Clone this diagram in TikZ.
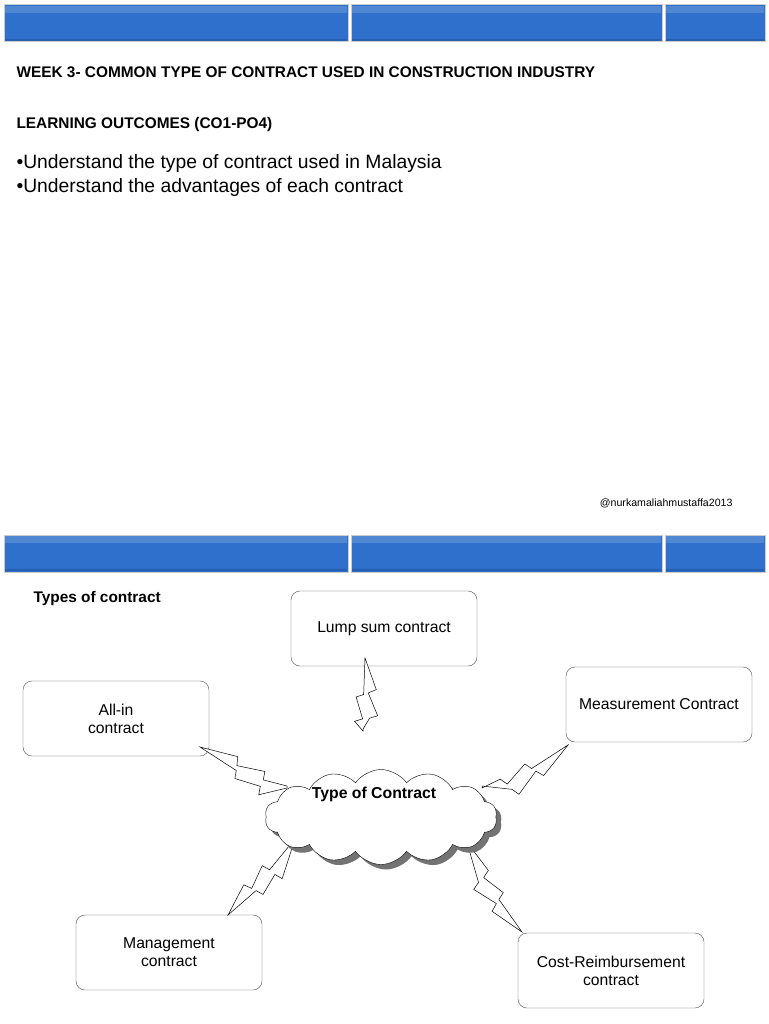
\documentclass[tikz,border=0pt]{standalone}
\usepackage{fontspec}
\setmainfont{Liberation Sans}
\usetikzlibrary{calc,shapes.symbols,shadows}
\definecolor{barblue}{RGB}{46,112,204}
\definecolor{barlight}{RGB}{80,135,210}
\definecolor{bardark}{RGB}{40,95,175}
\tikzset{
 bar/.style={draw=black!20,line width=1pt,fill=barblue},
 ctbox/.style={draw=black!70,rounded corners=9pt,minimum width=186pt,minimum height=75pt,align=center,font=\fontsize{15.7}{18}\selectfont,inner sep=0pt},
 boltst/.style={draw=black,fill=white,line width=0.5pt,line join=miter}
}
\newcommand{\bolt}[2]{%
 \draw[boltst] (#1) -- ($(#1)!0.36!(#2)!12pt!90:(#2)$) -- ($(#1)!0.40!(#2)!4pt!90:(#2)$)
 -- ($(#1)!0.66!(#2)!14pt!90:(#2)$) -- ($(#1)!0.69!(#2)!6pt!90:(#2)$)
 -- ($(#1)!1!(#2)!16pt!90:(#2)$) -- ($(#1)!1!(#2)!14pt!-90:(#2)$)
 -- ($(#1)!0.73!(#2)!9pt!-90:(#2)$) -- ($(#1)!0.70!(#2)!1pt!-90:(#2)$)
 -- ($(#1)!0.45!(#2)!8pt!-90:(#2)$) -- ($(#1)!0.42!(#2)!0.5pt!-90:(#2)$) -- cycle;}
\begin{document}
\begin{tikzpicture}[x=1pt,y=-1pt]
\useasboundingbox (0,0) rectangle (768,1024);
\fill[white] (0,0) rectangle (768,1024);
\foreach \yy in {5,535}{
 \foreach \xa/\xb in {4/348,351/662,665/765}{
  \draw[bar] (\xa,\yy) rectangle (\xb,\yy+37);
  \fill[barlight] (\xa+1,\yy+1) rectangle (\xb-1,\yy+8);
  \fill[bardark] (\xa+1,\yy+34) rectangle (\xb-1,\yy+36);
 }}
\node[anchor=west,font=\bfseries\fontsize{15.4}{18}\selectfont] (t1) at (13,72) {WEEK 3- COMMON TYPE OF CONTRACT USED IN CONSTRUCTION INDUSTRY};
\node[anchor=west,font=\bfseries\fontsize{15.4}{18}\selectfont] (t2) at (13,125) {LEARNING OUTCOMES (CO1-PO4)};
\node[anchor=west,font=\fontsize{19.3}{22}\selectfont] (b1) at (13,164) {•Understand the type of contract used in Malaysia};
\node[anchor=west,font=\fontsize{19.3}{22}\selectfont] (b2) at (13,188) {•Understand the advantages of each contract};
\node[anchor=east,font=\fontsize{10.6}{12}\selectfont] (cr) at (736,503) {@nurkamaliahmustaffa2013};
\node[anchor=west,font=\bfseries\fontsize{15.4}{18}\selectfont] (t3) at (30,599) {Types of contract};
\node[ctbox] (lump) at (384,628.5) {Lump sum contract};
\node[ctbox] (allin) at (116,718.5) {All-in\\contract};
\node[ctbox] (meas) at (659,704.5) {Measurement Contract};
\node[ctbox] (mgmt) at (169,952.5) {Management\\contract};
\node[ctbox] (cost) at (611,970.5) {Cost-Reimbursement\\contract};
\coordinate (c1) at (363,745); \coordinate (p1) at (365,658);
\coordinate (c2) at (287,802); \coordinate (p2) at (200,747);
\coordinate (c3) at (482,802); \coordinate (p3) at (568,745);
\coordinate (c4) at (294,856); \coordinate (p4) at (228,915);
\coordinate (c5) at (466,855); \coordinate (p5) at (522,932);
\bolt{p1}{c1}\bolt{p2}{c2}\bolt{p3}{c3}\bolt{p4}{c4}\bolt{p5}{c5}
\node[cloud,cloud puffs=14,cloud puff arc=110,aspect=2.6,draw=black,fill=white,minimum width=232pt,minimum height=95pt,drop shadow={shadow xshift=5pt,shadow yshift=-5pt,fill=black!55,opacity=1}] (cl) at (381,817) {};
\node[font=\bfseries\fontsize{15.8}{18}\selectfont] (clt) at (374,794) {Type of Contract};
\end{tikzpicture}
\end{document}
